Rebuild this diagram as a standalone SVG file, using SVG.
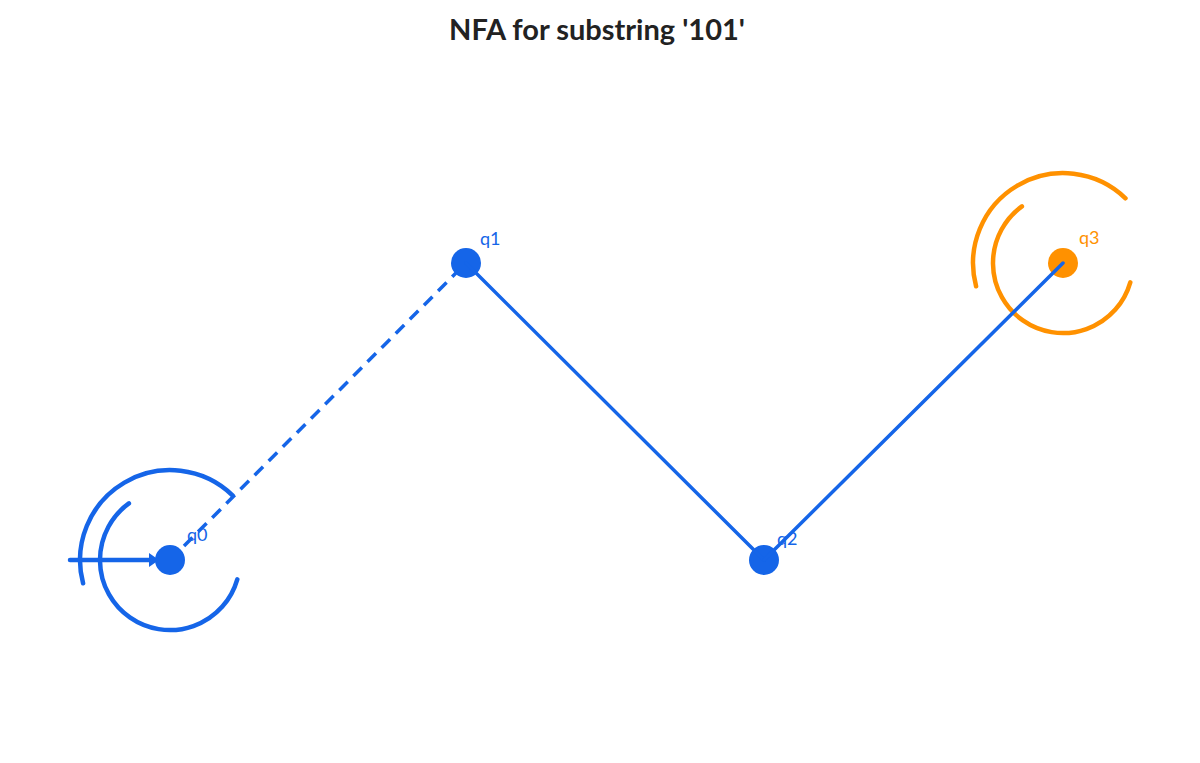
<svg xmlns="http://www.w3.org/2000/svg" width="1200" height="763" viewBox="0 0 1200 763">
  <style>
    .title { font-family: "Lato", "Noto Sans", sans-serif; font-size: 29px; font-weight: 700; fill: #222222; }
    .lbl { font-family: "Lato", "Noto Sans", sans-serif; font-size: 18px; font-weight: 400; }
    .blue { fill: #1565E8; }
    .orange { fill: #FF9100; }
    .loopb { fill: none; stroke: #1565E8; stroke-width: 4.5; stroke-linecap: round; }
    .loopo { fill: none; stroke: #FF9100; stroke-width: 4.5; stroke-linecap: round; }
    .edge { fill: none; stroke: #1565E8; stroke-width: 3.5; stroke-linecap: round; }
    .dashed { stroke-dasharray: 12 8; stroke-linecap: butt; }
  </style>
  <defs>
    <marker id="arrow" viewBox="0 0 10 14" refX="0" refY="7" markerWidth="10" markerHeight="14" markerUnits="userSpaceOnUse" orient="auto">
      <path d="M0,0 L10,7 L0,14 Z" fill="#1565E8"/>
    </marker>
  </defs>
  <rect width="1200" height="763" fill="#ffffff"/>
  <text class="title" x="597" y="40" text-anchor="middle">NFA for substring '101'</text>

  <g id="q0">
    <path class="loopb" d="M232.5,495.3 A90,90 0 0 0 83.1,583.3"/>
    <path class="loopb" d="M128.9,503.4 A70,70 0 1 0 237.3,579.3"/>
    <line x1="70" y1="560" x2="149" y2="560" stroke="#1565E8" stroke-width="4.5" stroke-linecap="round" marker-end="url(#arrow)"/>
    <circle class="blue" cx="170" cy="560" r="15"/>
    <text class="lbl blue" x="187" y="541">q0</text>
  </g>
  <g id="q1">
    <circle class="blue" cx="466" cy="263" r="15"/>
    <text class="lbl blue" x="480" y="245">q1</text>
  </g>
  <g id="q2">
    <circle class="blue" cx="764" cy="560" r="15"/>
    <text class="lbl blue" x="777" y="545">q2</text>
  </g>
  <g id="q3">
    <path class="loopo" d="M1125.5,198.3 A90,90 0 0 0 976.1,286.3"/>
    <path class="loopo" d="M1021.9,206.4 A70,70 0 1 0 1130.3,282.3"/>
    <circle class="orange" cx="1063" cy="263" r="15"/>
    <text class="lbl orange" x="1079" y="244">q3</text>
  </g>

  <g id="connectors">
    <line class="edge dashed" x1="184" y1="546" x2="458" y2="271"/>
    <line class="edge" x1="466" y1="263" x2="764" y2="560"/>
    <line class="edge" x1="764" y1="560" x2="1063" y2="263"/>
  </g>
</svg>
